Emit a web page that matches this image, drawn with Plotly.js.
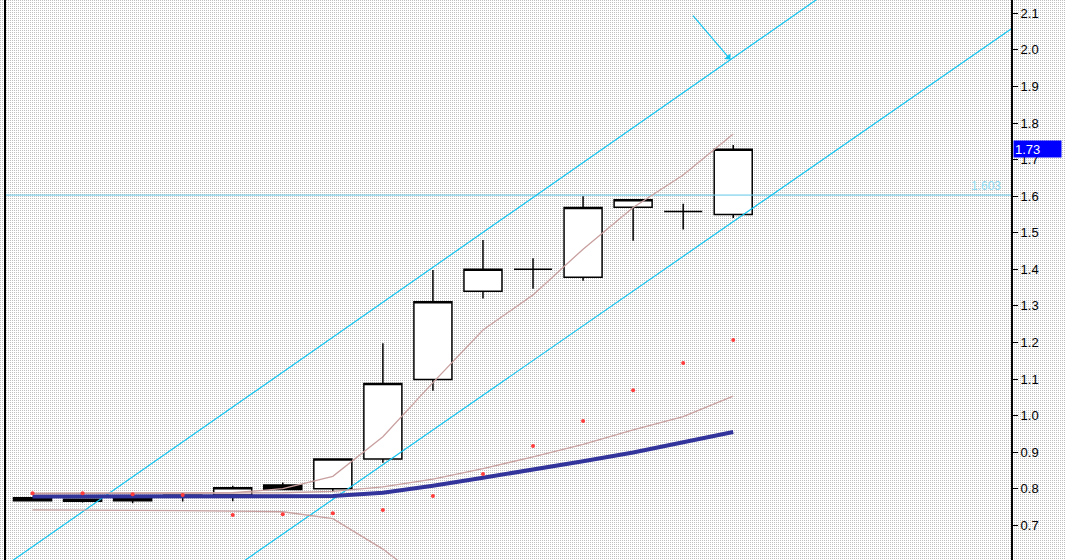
<!DOCTYPE html>
<html>
<head>
<meta charset="utf-8">
<script src="https://cdn.plot.ly/plotly-3.0.1.min.js"></script>
<style>
  html, body { margin: 0; padding: 0; }
  body {
    width: 1066px; height: 560px; overflow: hidden;
    background-color: #ffffff;
    background-image: url("data:image/svg+xml,%3Csvg xmlns='http://www.w3.org/2000/svg' width='2' height='2'%3E%3Crect width='1' height='1' fill='%23c0c0c0'/%3E%3C/svg%3E");
    background-size: 2px 2px;
  }
  #chart { width: 1066px; height: 560px; }
</style>
</head>
<body>
<div id="chart"></div>
<script>
// ---- data ----
const barIndex   = [0, 1, 2, 3, 4, 5, 6, 7, 8, 9, 10, 11, 12, 13, 14];
const openVals   = [0.775, 0.766, 0.767, 0.778, 0.783, 0.810, 0.800, 0.881, 1.099, 1.340, 1.400, 1.378, 1.570, 1.558, 1.550];
const highVals   = [0.776, 0.772, 0.776, 0.784, 0.808, 0.817, 0.881, 1.198, 1.398, 1.480, 1.430, 1.600, 1.590, 1.579, 1.740];
const lowVals    = [0.766, 0.762, 0.760, 0.765, 0.766, 0.797, 0.792, 0.871, 1.068, 1.320, 1.347, 1.369, 1.478, 1.509, 1.540];
const closeVals  = [0.767, 0.771, 0.774, 0.782, 0.803, 0.798, 0.881, 1.088, 1.311, 1.400, 1.400, 1.569, 1.590, 1.558, 1.728];

const shortMA    = [0.787, 0.787, 0.787, 0.787, 0.789, 0.800, 0.834, 0.942, 1.090, 1.234, 1.330, 1.455, 1.569, 1.658, 1.770];
const longMA     = [0.787, 0.787, 0.787, 0.787, 0.787, 0.789, 0.793, 0.805, 0.826, 0.855, 0.887, 0.921, 0.961, 0.997, 1.053];
const blueMA     = [0.779, 0.779, 0.778, 0.778, 0.778, 0.778, 0.780, 0.789, 0.808, 0.830, 0.852, 0.875, 0.899, 0.926, 0.955];
const lowerBandX = [0, 1, 2, 3, 4, 5, 6, 7, 8];
const lowerBand  = [0.742, 0.742, 0.741, 0.740, 0.739, 0.737, 0.718, 0.635, 0.530];
const stopDots   = [0.7875, 0.7875, 0.785, 0.783, 0.728, 0.730, 0.733, 0.742, 0.780, 0.840, 0.917, 0.985, 1.069, 1.144, 1.207];

const trendUpperX = [-1, 17];
const trendUpperY = [0.546, 2.265];
const trendLowerX = [4, 20];
const trendLowerY = [0.581, 2.100];
const arrowTail   = [13.17, 2.098];
const arrowHead   = [13.94, 1.974];

const hLevel      = 1.603;
const hLevelText  = "1.603";
const lastPrice   = 1.73;
const lastPriceText = "1.73";
const xRange = [-0.53, 19.55];
const yRange = [0.6051, 2.1364];

// ---- styles ----
const CYAN = '#10c4f0';
const ROSE = '#c9a0a0';

const traces = [
  {
    type: 'candlestick', x: barIndex, open: openVals, high: highVals, low: lowVals, close: closeVals,
    increasing: { line: { color: '#000000', width: 1.5 }, fillcolor: '#ffffff' },
    decreasing: { line: { color: '#000000', width: 1.5 }, fillcolor: '#000000' },
    whiskerwidth: 0, showlegend: false, hoverinfo: 'skip'
  },
  { type: 'scatter', mode: 'lines', x: [xRange[0] - 1, xRange[1] + 1], y: [hLevel, hLevel],
    line: { color: '#60c8e8', width: 1 }, hoverinfo: 'skip', showlegend: false },
  { type: 'scatter', mode: 'lines', x: trendUpperX, y: trendUpperY,
    line: { color: CYAN, width: 1.2 }, hoverinfo: 'skip', showlegend: false },
  { type: 'scatter', mode: 'lines', x: trendLowerX, y: trendLowerY,
    line: { color: CYAN, width: 1.2 }, hoverinfo: 'skip', showlegend: false },
  { type: 'scatter', mode: 'lines', x: lowerBandX, y: lowerBand,
    line: { color: ROSE, width: 1.3 }, hoverinfo: 'skip', showlegend: false },
  { type: 'scatter', mode: 'lines', x: barIndex, y: blueMA,
    line: { color: '#33339c', width: 4 }, hoverinfo: 'skip', showlegend: false },
  { type: 'scatter', mode: 'lines', x: barIndex, y: longMA,
    line: { color: ROSE, width: 1.3 }, hoverinfo: 'skip', showlegend: false },
  { type: 'scatter', mode: 'lines', x: barIndex, y: shortMA,
    line: { color: ROSE, width: 1.3 }, hoverinfo: 'skip', showlegend: false },
  { type: 'scatter', mode: 'markers', x: barIndex, y: stopDots,
    marker: { color: '#ff3b3b', size: 4 }, hoverinfo: 'skip', showlegend: false }
];

const layout = {
  width: 1066, height: 560,
  margin: { l: 6, r: 55, t: 0, b: 0, pad: 0 },
  paper_bgcolor: 'rgba(0,0,0,0)',
  plot_bgcolor: 'rgba(0,0,0,0)',
  showlegend: false,
  boxgap: 0.24,
  boxgroupgap: 0,
  font: { family: 'Liberation Sans, Arial, sans-serif', size: 12, color: '#000000' },
  xaxis: {
    range: xRange, visible: false, showgrid: false, zeroline: false,
    rangeslider: { visible: false }, fixedrange: true
  },
  yaxis: {
    range: yRange, side: 'right', showgrid: false, zeroline: false,
    showline: true, mirror: true, linecolor: '#000000', linewidth: 2,
    ticks: 'outside', ticklen: 5, tickwidth: 1, tickcolor: '#000000',
    dtick: 0.1, tick0: 0, tickformat: '.1f',
    tickfont: { family: 'Liberation Sans, Arial, sans-serif', size: 13, color: '#000000' },
    fixedrange: true
  },
  annotations: [
    {
      x: arrowHead[0], y: arrowHead[1], xref: 'x', yref: 'y',
      ax: arrowTail[0], ay: arrowTail[1], axref: 'x', ayref: 'y',
      showarrow: true, arrowhead: 1, arrowsize: 1.2, arrowwidth: 1.2, arrowcolor: CYAN, text: ''
    },
    {
      x: 1, xref: 'paper', y: hLevel, yref: 'y', xanchor: 'right', yanchor: 'bottom',
      xshift: -8, yshift: 0, showarrow: false, text: hLevelText,
      font: { family: 'Liberation Sans, Arial, sans-serif', size: 12, color: '#8fdcf2' }
    },
    {
      x: 1, xref: 'paper', y: lastPrice, yref: 'y', xanchor: 'left', yanchor: 'middle',
      xshift: 2, showarrow: false, text: lastPriceText, align: 'left',
      width: 45, height: 14, bgcolor: '#0000ff', borderpad: 1,
      font: { family: 'Liberation Sans, Arial, sans-serif', size: 13, color: '#ffffff' }
    }
  ]
};

Plotly.newPlot('chart', traces, layout, { staticPlot: true, displayModeBar: false });
</script>
</body>
</html>
